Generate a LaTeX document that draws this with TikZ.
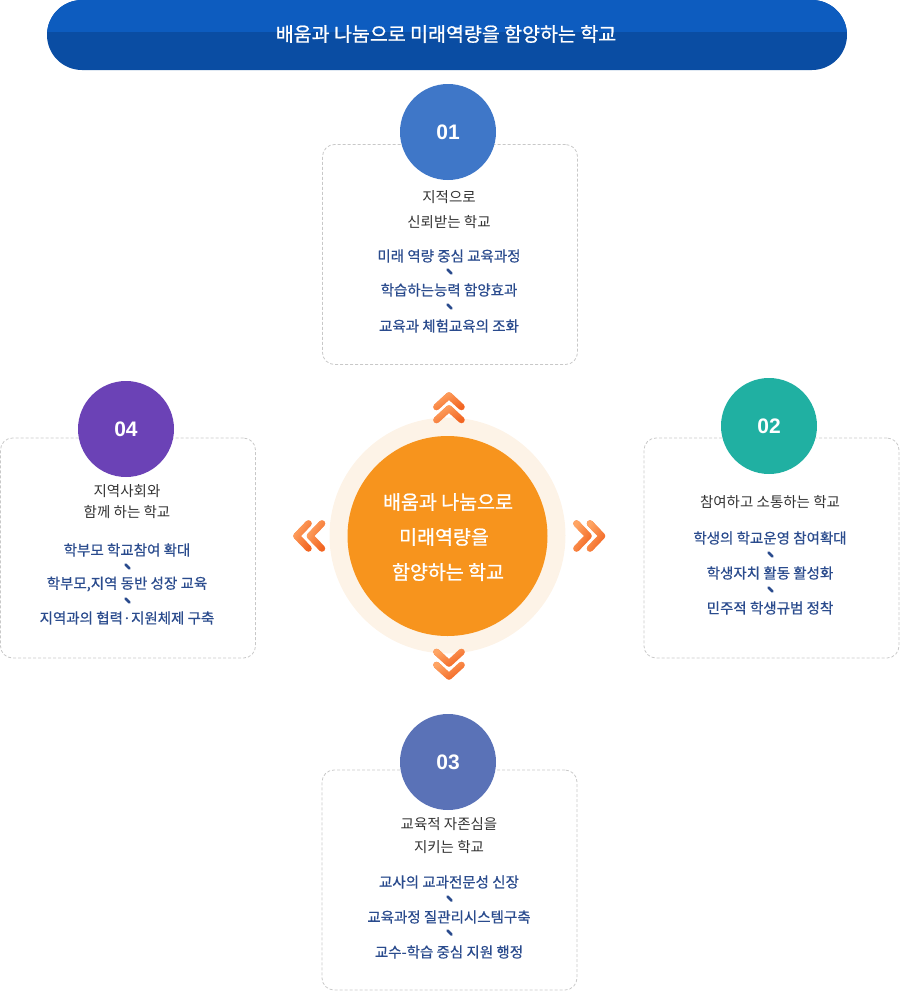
\documentclass[tikz,border=0pt]{standalone}
\usepackage{fontspec}
\usetikzlibrary{fadings}
\setmainfont{Noto Sans CJK KR}
\newfontfamily\krmed[FakeBold=0.6]{Noto Sans CJK KR}
\newfontfamily\krbold[FakeBold=1.0]{Noto Sans CJK KR}
\newfontfamily\numfont{Liberation Sans}
\definecolor{bannerTop}{HTML}{0D5CBF}
\definecolor{bannerBot}{HTML}{0A4DA3}
\definecolor{cA}{HTML}{3F77C8}
\definecolor{cB}{HTML}{20B0A2}
\definecolor{cC}{HTML}{5A72B7}
\definecolor{cD}{HTML}{6B42B6}
\definecolor{itemblue}{HTML}{2A4B8D}
\definecolor{titlegray}{HTML}{333333}
\definecolor{orangeC}{HTML}{F7941D}
\definecolor{orangeRing}{HTML}{FDF3E7}
\definecolor{chevdark}{HTML}{F26522}
\definecolor{chevlight}{HTML}{FFA564}
\definecolor{dashgray}{HTML}{C8C8C8}
\tikzfading[name=chevfade, left color=transparent!0, right color=transparent!100]
\tikzset{
  card/.style={draw=dashgray, dash pattern=on 3pt off 2pt, line width=0.8pt, rounded corners=12pt, rectangle, minimum width=255pt, minimum height=220pt, inner sep=0pt},
  numcirc/.style={circle, minimum size=96pt, inner sep=0pt, text=white, font=\numfont\bfseries\fontsize{21}{21}\selectfont},
  ttl/.style={text=titlegray, font=\fontsize{14.5}{16}\selectfont, inner sep=0pt},
  itm/.style={text=itemblue, font=\krmed\fontsize{14.5}{16}\selectfont, inner sep=0pt},
  ctext/.style={text=white, font=\krbold\fontsize{19.5}{20}\selectfont, inner sep=0pt},
  sepmark/.style={draw=itemblue, line width=2.8pt, line cap=round},
  chevline/.style={draw=chevdark, line width=6.5pt, line cap=round, line join=round},
  chevglow/.style={draw=chevlight, line width=6.5pt, line cap=round, line join=round, path fading=chevfade, fading angle=-45},
}
\newcommand{\chevpair}[6]{%
  \draw[chevline] #1 -- #2 -- #3;
  \draw[chevglow] #1 -- #2 -- #3;
  \draw[chevline] #4 -- #5 -- #6;
  \draw[chevglow] #4 -- #5 -- #6;
}
\begin{document}
\begin{tikzpicture}[x=1pt,y=-1pt]
\useasboundingbox (0,0) rectangle (900,999);
% banner
\begin{scope}
  \clip[rounded corners=35pt] (47,0) rectangle (847,70);
  \fill[bannerBot] (40,-2) rectangle (855,72);
  \fill[bannerTop] (40,-2) rectangle (855,32);
\end{scope}
\node[ctext] (banner) at (446,34) {배움과 나눔으로 미래역량을 함양하는 학교};

% card 01
\node[card] (box1) at (450,254.5) {};
\node[numcirc, fill=cA] (n1) at (448,132) {01};
\node[ttl] (t1a) at (449,197) {지적으로};
\node[ttl] (t1b) at (449,222) {신뢰받는 학교};
\node[itm] (i1a) at (449,256) {미래 역량 중심 교육과정};
\node[itm] (i1b) at (449,290) {학습하는능력 함양효과};
\node[itm] (i1c) at (449,326) {교육과 체험교육의 조화};
\draw[sepmark] (447.5,269.5) -- (451.5,273.5);
\draw[sepmark] (447.5,304.5) -- (451.5,308.5);

% card 02
\node[card] (box2) at (771.5,548) {};
\node[numcirc, fill=cB] (n2) at (769,426) {02};
\node[ttl] (t2a) at (770,502) {참여하고 소통하는 학교};
\node[itm] (i2a) at (770,538) {학생의 학교운영 참여확대};
\node[itm] (i2b) at (770,573) {학생자치 활동 활성화};
\node[itm] (i2c) at (770,608) {민주적 학생규범 정착};
\draw[sepmark] (768.5,552.5) -- (772.5,556.5);
\draw[sepmark] (768.5,587.5) -- (772.5,591.5);

% card 03
\node[card] (box3) at (449.5,880) {};
\node[numcirc, fill=cC] (n3) at (448,762) {03};
\node[ttl] (t3a) at (449,824) {교육적 자존심을};
\node[ttl] (t3b) at (449,847) {지키는 학교};
\node[itm] (i3a) at (449,882) {교사의 교과전문성 신장};
\node[itm] (i3b) at (449,917) {교육과정 질관리시스템구축};
\node[itm] (i3c) at (449,952) {교수-학습 중심 지원 행정};
\draw[sepmark] (447.5,896.5) -- (451.5,900.5);
\draw[sepmark] (447.5,930.5) -- (451.5,934.5);

% card 04
\node[card] (box4) at (128,548) {};
\node[numcirc, fill=cD] (n4) at (126,429) {04};
\node[ttl] (t4a) at (127,491) {지역사회와};
\node[ttl] (t4b) at (127,512) {함께 하는 학교};
\node[itm] (i4a) at (127,550) {학부모 학교참여 확대};
\node[itm] (i4b) at (127,584) {학부모,지역 동반 성장 교육};
\node[itm] (i4c) at (127,618) {지역과의 협력·지원체제 구축};
\draw[sepmark] (125.5,564.5) -- (129.5,568.5);
\draw[sepmark] (125.5,598.5) -- (129.5,602.5);

% center
\node[circle, fill=orangeRing, minimum size=236pt, inner sep=0pt] (ring) at (447.5,535.5) {};
\node[circle, fill=orangeC, minimum size=200pt, inner sep=0pt] (core) at (447.5,536) {};
\node[ctext] (c1) at (448,502) {배움과 나눔으로};
\node[ctext] (c2) at (444,537) {미래역량을};
\node[ctext] (c3) at (448,572) {함양하는 학교};

% chevrons up
\chevpair{(436.5,407)}{(449,395.5)}{(461.5,407)}{(436.5,420)}{(449,408.5)}{(461.5,420)}
% chevrons down
\chevpair{(436.5,652)}{(449,663.5)}{(461.5,652)}{(436.5,665)}{(449,676.5)}{(461.5,665)}
% chevrons left
\chevpair{(308.5,523.5)}{(296.5,536)}{(308.5,548.5)}{(322,523.5)}{(310,536)}{(322,548.5)}
% chevrons right
\chevpair{(576.5,523.5)}{(588.5,536)}{(576.5,548.5)}{(590,523.5)}{(602,536)}{(590,548.5)}
\end{tikzpicture}
\end{document}
